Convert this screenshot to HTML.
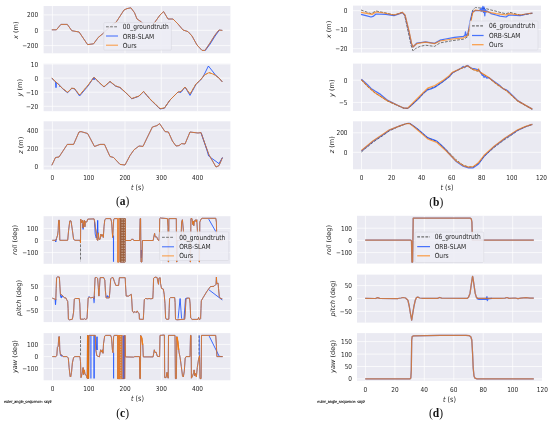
<!DOCTYPE html>
<html><head><meta charset="utf-8"><title>Figure</title>
<style>
html,body{margin:0;padding:0;background:#fff;overflow:hidden;}
svg{display:block;filter:blur(0.3px)}
svg text{font-family:"DejaVu Sans","Liberation Sans",sans-serif;fill:#262626;}
svg text.cap{font-family:"Liberation Serif",serif;font-weight:bold;fill:#111;}
</style></head><body>
<svg width="550" height="422" viewBox="0 0 550 422">
<rect width="550" height="422" fill="#fff"/>
<rect x="43.6" y="6" width="186.8" height="47.3" fill="#EAEAF2"/>
<line x1="52.4" y1="6" x2="52.4" y2="53.3" stroke="#fff" stroke-width="0.7"/>
<line x1="88.7" y1="6" x2="88.7" y2="53.3" stroke="#fff" stroke-width="0.7"/>
<line x1="125.0" y1="6" x2="125.0" y2="53.3" stroke="#fff" stroke-width="0.7"/>
<line x1="161.3" y1="6" x2="161.3" y2="53.3" stroke="#fff" stroke-width="0.7"/>
<line x1="197.6" y1="6" x2="197.6" y2="53.3" stroke="#fff" stroke-width="0.7"/>
<line x1="43.6" y1="14.9" x2="230.4" y2="14.9" stroke="#fff" stroke-width="0.7"/>
<line x1="43.6" y1="30.3" x2="230.4" y2="30.3" stroke="#fff" stroke-width="0.7"/>
<line x1="43.6" y1="45.6" x2="230.4" y2="45.6" stroke="#fff" stroke-width="0.7"/>
<polyline points="205.0,50.8 210.0,44.2 215.0,36.2 219.0,30.6" fill="none" stroke="#023EFF" stroke-width="0.95" stroke-linejoin="round" stroke-opacity="0.8"/>
<polyline points="51.8,29.8 56.4,29.8 60.9,24.4 67.3,24.4 71.8,30.7 79.1,32.0 87.6,44.6 93.6,43.8 98.2,37.5 102.7,33.8 105.5,31.0 112.7,24.6 116.4,21.8 124.0,10.0 127.0,8.6 130.9,7.8 134.5,12.7 137.0,19.0 141.5,22.0 145.0,26.0 148.0,27.5 151.0,26.0 155.0,22.0 160.0,15.0 163.6,11.6 168.0,19.0 173.0,19.0 178.0,24.0 183.0,30.0 188.0,31.6 192.0,36.0 197.0,45.0 202.0,50.4 205.0,50.4 210.0,43.0 215.0,35.0 219.0,30.0 222.4,30.4" fill="none" stroke="#023EFF" stroke-width="0.95" stroke-linejoin="round" stroke-opacity="0.8"/>
<polyline points="51.8,29.8 56.4,29.8 60.9,24.4 67.3,24.4 71.8,30.7 79.1,32.0 87.6,44.6 93.6,43.8 98.2,37.5 102.7,33.8 105.5,31.0 112.7,24.6 116.4,21.8 124.0,10.0 127.0,8.6 130.9,7.8 134.5,12.7 137.0,19.0 141.5,22.0 145.0,26.0 148.0,27.5 151.0,26.0 155.0,22.0 160.0,15.0 163.6,11.6 168.0,19.0 173.0,19.0 178.0,24.0 183.0,30.0 188.0,31.6 192.0,36.0 197.0,45.0 202.0,50.4 205.0,50.4 210.0,43.0 215.0,35.0 219.0,30.0 222.4,30.4" fill="none" stroke="#FF7C00" stroke-width="0.95" stroke-linejoin="round" stroke-opacity="0.8"/>
<rect x="103.8" y="22.6" width="67.6" height="27.5" rx="1" fill="#ededf5" fill-opacity="0.9" stroke="#d4d4dc" stroke-width="0.5"/>
<line x1="106" y1="26.8" x2="118" y2="26.8" stroke="#6e6e6e" stroke-width="0.95" stroke-dasharray="2.8,1.3"/>
<line x1="106" y1="36" x2="118" y2="36" stroke="#023EFF" stroke-opacity="0.8" stroke-width="0.95"/>
<line x1="106" y1="45.2" x2="118" y2="45.2" stroke="#FF7C00" stroke-opacity="0.8" stroke-width="0.95"/>
<text transform="translate(122.7,29.3) scale(0.85,1)" font-size="7.00" text-anchor="start" >00_groundtruth</text>
<text transform="translate(122.7,38.5) scale(0.85,1)" font-size="7.00" text-anchor="start" >ORB-SLAM</text>
<text transform="translate(122.7,47.7) scale(0.85,1)" font-size="7.00" text-anchor="start" >Ours</text>
<text transform="translate(38.1,17.4) scale(0.85,1)" font-size="6.82" text-anchor="end" >200</text>
<text transform="translate(38.1,32.8) scale(0.85,1)" font-size="6.82" text-anchor="end" >0</text>
<text transform="translate(38.1,48.1) scale(0.85,1)" font-size="6.82" text-anchor="end" >−200</text>
<text transform="translate(18.2,30.3) rotate(-90)" font-size="6.6000000000000005" text-anchor="middle"><tspan font-style="oblique">x</tspan> (m)</text>
<rect x="43.6" y="63.6" width="186.8" height="47.6" fill="#EAEAF2"/>
<line x1="52.4" y1="63.6" x2="52.4" y2="111.2" stroke="#fff" stroke-width="0.7"/>
<line x1="88.7" y1="63.6" x2="88.7" y2="111.2" stroke="#fff" stroke-width="0.7"/>
<line x1="125.0" y1="63.6" x2="125.0" y2="111.2" stroke="#fff" stroke-width="0.7"/>
<line x1="161.3" y1="63.6" x2="161.3" y2="111.2" stroke="#fff" stroke-width="0.7"/>
<line x1="197.6" y1="63.6" x2="197.6" y2="111.2" stroke="#fff" stroke-width="0.7"/>
<line x1="43.6" y1="64.0" x2="230.4" y2="64.0" stroke="#fff" stroke-width="0.7"/>
<line x1="43.6" y1="78.1" x2="230.4" y2="78.1" stroke="#fff" stroke-width="0.7"/>
<line x1="43.6" y1="92.2" x2="230.4" y2="92.2" stroke="#fff" stroke-width="0.7"/>
<line x1="43.6" y1="106.3" x2="230.4" y2="106.3" stroke="#fff" stroke-width="0.7"/>
<polyline points="51.8,78.1 58.2,84.1 62.7,88.6 67.6,92.3 71.8,88.1 74.5,88.6 79.6,95.0 88.2,85.0 94.0,77.2 99.1,82.3 104.0,86.8 110.0,81.4 115.5,85.9 120.0,87.4 125.5,92.3 131.8,98.6 139.0,96.0 143.6,91.4 150.0,99.0 160.0,108.6 164.4,108.0 170.0,100.0 178.0,92.0 181.0,91.4 185.0,87.0 190.0,94.0 196.0,84.0 200.4,80.0 204.4,75.0 209.0,72.6 214.0,74.4 219.0,78.0 222.4,82.0" fill="none" stroke="#6e6e6e" stroke-width="0.7" stroke-linejoin="round" stroke-dasharray="2.8,1.3"/>
<polyline points="51.8,78.1 55.6,82.0 56.0,87.7 56.3,82.5 59.6,85.0 60.0,87.0 60.5,86.3 62.7,88.8 67.6,92.8 71.8,88.3 74.5,88.8 79.6,96.0 88.2,85.8 93.6,77.6 94.0,80.0 94.4,77.6 99.1,82.5 104.0,87.0 110.0,81.6 115.5,86.1 120.0,87.6 125.5,92.5 131.8,98.8 139.0,96.2 143.6,91.6 150.0,99.2 160.0,109.0 164.4,108.2 170.0,100.0 178.0,92.0 181.0,92.4 185.0,87.0 190.0,95.4 196.0,84.4 200.4,80.0 203.0,77.0 208.4,66.0 216.0,75.6 219.0,78.0 222.4,82.0" fill="none" stroke="#023EFF" stroke-width="0.95" stroke-linejoin="round" stroke-opacity="0.8"/>
<polyline points="51.8,78.1 58.2,84.1 62.7,88.6 67.6,92.3 71.8,88.1 74.5,88.6 79.6,95.0 88.2,85.0 94.0,77.2 99.1,82.3 104.0,86.8 110.0,81.4 115.5,85.9 120.0,87.4 125.5,92.3 131.8,98.6 139.0,96.0 143.6,91.4 150.0,99.0 160.0,108.6 164.4,108.0 170.0,100.0 178.0,92.0 181.0,91.4 185.0,87.0 190.0,94.0 196.0,84.0 200.4,80.0 204.4,75.0 209.0,72.6 214.0,74.4 219.0,78.0 222.4,82.0" fill="none" stroke="#FF7C00" stroke-width="0.95" stroke-linejoin="round" stroke-opacity="0.8"/>
<text transform="translate(38.1,66.5) scale(0.85,1)" font-size="6.82" text-anchor="end" >10</text>
<text transform="translate(38.1,80.6) scale(0.85,1)" font-size="6.82" text-anchor="end" >0</text>
<text transform="translate(38.1,94.7) scale(0.85,1)" font-size="6.82" text-anchor="end" >−10</text>
<text transform="translate(38.1,108.8) scale(0.85,1)" font-size="6.82" text-anchor="end" >−20</text>
<text transform="translate(21.5,87.8) rotate(-90)" font-size="6.6000000000000005" text-anchor="middle"><tspan font-style="oblique">y</tspan> (m)</text>
<rect x="43.6" y="121.3" width="186.8" height="48.2" fill="#EAEAF2"/>
<line x1="52.4" y1="121.3" x2="52.4" y2="169.5" stroke="#fff" stroke-width="0.7"/>
<line x1="88.7" y1="121.3" x2="88.7" y2="169.5" stroke="#fff" stroke-width="0.7"/>
<line x1="125.0" y1="121.3" x2="125.0" y2="169.5" stroke="#fff" stroke-width="0.7"/>
<line x1="161.3" y1="121.3" x2="161.3" y2="169.5" stroke="#fff" stroke-width="0.7"/>
<line x1="197.6" y1="121.3" x2="197.6" y2="169.5" stroke="#fff" stroke-width="0.7"/>
<line x1="43.6" y1="130.0" x2="230.4" y2="130.0" stroke="#fff" stroke-width="0.7"/>
<line x1="43.6" y1="148.2" x2="230.4" y2="148.2" stroke="#fff" stroke-width="0.7"/>
<line x1="43.6" y1="166.2" x2="230.4" y2="166.2" stroke="#fff" stroke-width="0.7"/>
<polyline points="201.0,132.6 205.0,144.4 207.0,150.4 208.6,156.0 219.0,163.6 222.4,157.6" fill="none" stroke="#023EFF" stroke-width="0.95" stroke-linejoin="round" stroke-opacity="0.8"/>
<polyline points="51.8,165.3 55.5,157.5 59.0,157.0 67.3,144.4 73.6,144.4 79.0,132.0 81.0,131.6 87.6,133.5 94.5,146.5 100.0,144.4 104.5,144.4 110.0,156.5 113.6,157.5 120.0,164.4 125.0,165.0 130.0,155.5 134.0,149.8 139.0,146.0 143.0,146.4 147.0,138.0 152.4,127.0 157.0,125.6 159.6,123.6 165.0,131.6 168.4,132.0 172.4,141.0 176.0,146.0 179.0,145.6 181.6,143.6 185.0,144.0 190.0,132.0 193.0,132.4 198.0,133.0 201.0,132.6 205.0,144.0 209.0,155.0 212.0,160.0 216.0,167.0 219.0,165.6 222.4,157.6" fill="none" stroke="#023EFF" stroke-width="0.95" stroke-linejoin="round" stroke-opacity="0.8"/>
<polyline points="51.8,165.3 55.5,157.5 59.0,157.0 67.3,144.4 73.6,144.4 79.0,132.0 81.0,131.6 87.6,133.5 94.5,146.5 100.0,144.4 104.5,144.4 110.0,156.5 113.6,157.5 120.0,164.4 125.0,165.0 130.0,155.5 134.0,149.8 139.0,146.0 143.0,146.4 147.0,138.0 152.4,127.0 157.0,125.6 159.6,123.6 165.0,131.6 168.4,132.0 172.4,141.0 176.0,146.0 179.0,145.6 181.6,143.6 185.0,144.0 190.0,132.0 193.0,132.4 198.0,133.0 201.0,132.6 205.0,144.0 209.0,155.0 212.0,160.0 216.0,167.0 219.0,165.6 222.4,157.6" fill="none" stroke="#FF7C00" stroke-width="0.95" stroke-linejoin="round" stroke-opacity="0.8"/>
<text transform="translate(38.1,132.5) scale(0.85,1)" font-size="6.82" text-anchor="end" >400</text>
<text transform="translate(38.1,150.7) scale(0.85,1)" font-size="6.82" text-anchor="end" >200</text>
<text transform="translate(38.1,168.7) scale(0.85,1)" font-size="6.82" text-anchor="end" >0</text>
<text transform="translate(23.3,145.2) rotate(-90)" font-size="6.6000000000000005" text-anchor="middle"><tspan font-style="oblique">z</tspan> (m)</text>
<text transform="translate(52.4,180.1) scale(0.85,1)" font-size="6.82" text-anchor="middle" >0</text>
<text transform="translate(88.7,180.1) scale(0.85,1)" font-size="6.82" text-anchor="middle" >100</text>
<text transform="translate(125.0,180.1) scale(0.85,1)" font-size="6.82" text-anchor="middle" >200</text>
<text transform="translate(161.3,180.1) scale(0.85,1)" font-size="6.82" text-anchor="middle" >300</text>
<text transform="translate(197.6,180.1) scale(0.85,1)" font-size="6.82" text-anchor="middle" >400</text>
<text transform="translate(137.5,189.5) scale(0.85,1)" font-size="7.53" text-anchor="middle"><tspan font-style="oblique">t</tspan> (s)</text>
<text class="cap" x="122.6" y="205.3" font-size="11.5" text-anchor="middle"><tspan font-weight="normal">(</tspan>a<tspan font-weight="normal">)</tspan></text>
<rect x="353" y="5.6" width="188.0" height="47.0" fill="#EAEAF2"/>
<line x1="361.5" y1="5.6" x2="361.5" y2="52.6" stroke="#fff" stroke-width="0.7"/>
<line x1="391.6" y1="5.6" x2="391.6" y2="52.6" stroke="#fff" stroke-width="0.7"/>
<line x1="421.6" y1="5.6" x2="421.6" y2="52.6" stroke="#fff" stroke-width="0.7"/>
<line x1="451.7" y1="5.6" x2="451.7" y2="52.6" stroke="#fff" stroke-width="0.7"/>
<line x1="481.7" y1="5.6" x2="481.7" y2="52.6" stroke="#fff" stroke-width="0.7"/>
<line x1="511.8" y1="5.6" x2="511.8" y2="52.6" stroke="#fff" stroke-width="0.7"/>
<line x1="353" y1="10.7" x2="541" y2="10.7" stroke="#fff" stroke-width="0.7"/>
<line x1="353" y1="29.6" x2="541" y2="29.6" stroke="#fff" stroke-width="0.7"/>
<line x1="353" y1="48.7" x2="541" y2="48.7" stroke="#fff" stroke-width="0.7"/>
<polyline points="361.0,10.0 366.0,11.8 371.0,13.6 376.0,11.0 386.0,13.0 394.0,15.0 399.0,13.6 402.4,12.2 404.6,15.0 408.0,31.0 411.0,45.0 413.0,51.0 415.5,48.6 420.0,46.4 425.5,45.2 434.5,46.4 440.0,42.9 452.7,40.6 463.6,39.2 468.0,36.6 470.0,25.5 472.7,10.0 475.5,7.5 481.8,8.2 486.0,8.6 491.0,10.0 496.0,11.2 500.0,12.4 506.0,13.8 510.0,12.4 520.0,15.0 526.0,14.4 532.4,13.4" fill="none" stroke="#6e6e6e" stroke-width="0.95" stroke-linejoin="round" stroke-dasharray="2.8,1.3"/>
<polyline points="361.0,14.4 366.0,15.6 371.0,17.0 373.0,16.4 376.0,14.0 386.0,14.4 394.0,15.6 399.0,13.8 402.4,12.6 405.0,15.5 409.0,32.0 411.5,44.0 413.0,47.0 417.0,43.0 425.5,41.8 434.5,43.4 440.0,40.2 445.5,39.0 454.5,37.3 463.6,36.4 465.0,35.0 465.5,31.8 466.2,36.0 468.0,33.0 470.0,21.8 472.4,11.8 475.5,10.5 479.5,10.5 480.6,9.0 481.2,11.5 481.8,7.8 482.4,11.0 482.9,6.4 483.5,12.5 484.1,7.2 484.8,15.8 485.4,9.5 486.2,12.0 487.0,11.0 491.0,13.6 496.0,15.0 500.0,16.2 506.0,17.0 509.0,15.0 520.0,15.6 526.0,14.2 532.4,13.0" fill="none" stroke="#023EFF" stroke-width="1.25" stroke-linejoin="round" stroke-opacity="0.7"/>
<polyline points="361.0,12.4 368.0,13.6 372.0,14.4 376.0,12.0 384.0,13.0 394.0,15.0 399.0,13.6 402.4,12.4 405.0,15.0 409.0,31.0 411.5,43.0 413.0,47.0 415.0,45.0 417.0,43.6 425.5,42.2 434.5,43.6 440.0,41.0 452.7,39.0 463.6,37.8 467.6,35.5 470.0,25.5 472.7,12.7 475.5,10.0 481.8,11.0 486.0,11.6 491.0,12.7 496.0,13.6 500.0,14.2 506.0,15.0 509.0,13.6 520.0,15.0 526.0,14.0 532.4,13.0" fill="none" stroke="#FF7C00" stroke-width="1.25" stroke-linejoin="round" stroke-opacity="0.7"/>
<rect x="469.8" y="21" width="68.2" height="29.0" rx="1" fill="#ededf5" fill-opacity="0.9" stroke="#d4d4dc" stroke-width="0.5"/>
<line x1="472" y1="25.9" x2="483.6" y2="25.9" stroke="#6e6e6e" stroke-width="1.25" stroke-dasharray="2.8,1.3"/>
<line x1="472" y1="35.5" x2="483.6" y2="35.5" stroke="#023EFF" stroke-opacity="0.7" stroke-width="1.25"/>
<line x1="472" y1="44.7" x2="483.6" y2="44.7" stroke="#FF7C00" stroke-opacity="0.7" stroke-width="1.25"/>
<text transform="translate(489,28.4) scale(0.85,1)" font-size="7.00" text-anchor="start" >06_groundtruth</text>
<text transform="translate(489,38.0) scale(0.85,1)" font-size="7.00" text-anchor="start" >ORB-SLAM</text>
<text transform="translate(489,47.2) scale(0.85,1)" font-size="7.00" text-anchor="start" >Ours</text>
<text transform="translate(347.5,13.2) scale(0.85,1)" font-size="6.82" text-anchor="end" >0</text>
<text transform="translate(347.5,32.1) scale(0.85,1)" font-size="6.82" text-anchor="end" >−10</text>
<text transform="translate(347.5,51.2) scale(0.85,1)" font-size="6.82" text-anchor="end" >−20</text>
<text transform="translate(330.7,29.5) rotate(-90)" font-size="6.6000000000000005" text-anchor="middle"><tspan font-style="oblique">x</tspan> (m)</text>
<rect x="353" y="63.6" width="188.0" height="47.4" fill="#EAEAF2"/>
<line x1="361.5" y1="63.6" x2="361.5" y2="111.0" stroke="#fff" stroke-width="0.7"/>
<line x1="391.6" y1="63.6" x2="391.6" y2="111.0" stroke="#fff" stroke-width="0.7"/>
<line x1="421.6" y1="63.6" x2="421.6" y2="111.0" stroke="#fff" stroke-width="0.7"/>
<line x1="451.7" y1="63.6" x2="451.7" y2="111.0" stroke="#fff" stroke-width="0.7"/>
<line x1="481.7" y1="63.6" x2="481.7" y2="111.0" stroke="#fff" stroke-width="0.7"/>
<line x1="511.8" y1="63.6" x2="511.8" y2="111.0" stroke="#fff" stroke-width="0.7"/>
<line x1="353" y1="80.2" x2="541" y2="80.2" stroke="#fff" stroke-width="0.7"/>
<line x1="353" y1="102.4" x2="541" y2="102.4" stroke="#fff" stroke-width="0.7"/>
<polyline points="361.4,79.9 364.5,83.3 367.7,86.7 371.4,89.8 375.0,93.0 378.2,95.0 381.4,97.1 384.5,99.1 387.7,101.1 391.3,102.8 395.0,104.4 398.6,106.0 404.1,108.4 407.7,108.4 411.4,105.4 415.0,102.1 418.6,98.5 421.6,95.5 424.7,92.5 427.7,89.4 431.4,88.1 435.0,86.8 438.6,84.5 442.3,82.2 445.9,79.4 449.5,76.3 452.3,73.0 455.3,71.3 458.4,69.9 461.4,68.5 466.8,66.1 468.6,66.7 472.3,69.4 477.7,71.2 478.6,69.2 479.3,71.9 480.5,72.7 484.6,75.1 488.6,77.6 492.2,80.7 495.9,83.8 499.5,86.3 503.2,88.7 506.8,91.1 510.4,94.5 514.1,97.8 517.7,101.1 521.4,103.2 525.0,105.2 528.6,107.3 532.3,109.3" fill="none" stroke="#6e6e6e" stroke-width="0.95" stroke-linejoin="round" stroke-dasharray="2.8,1.3"/>
<polyline points="361.4,79.2 367.7,85.0 371.0,88.4 375.0,91.0 380.5,94.4 387.7,100.4 398.6,105.8 404.1,108.2 407.7,108.4 411.4,105.2 418.6,98.6 423.0,93.6 427.7,89.8 431.0,88.8 435.0,87.2 442.3,82.0 449.5,76.5 452.3,73.0 461.4,68.0 463.2,66.4 464.6,67.6 466.2,66.0 467.7,65.5 469.0,66.8 472.3,68.6 474.0,68.7 477.7,69.6 480.0,71.5 481.5,74.0 482.3,75.5 483.2,74.6 484.0,77.3 485.5,76.4 486.8,78.2 488.6,77.6 495.9,82.8 499.5,85.3 503.0,88.6 506.8,90.2 508.6,91.6 514.0,97.0 517.7,100.6 525.0,105.0 532.3,109.1" fill="none" stroke="#023EFF" stroke-width="1.25" stroke-linejoin="round" stroke-opacity="0.7"/>
<polyline points="361.4,79.6 367.7,86.4 375.0,92.7 387.7,100.9 398.6,105.8 404.1,108.2 407.7,108.2 411.4,104.5 418.6,97.3 427.7,88.2 435.0,85.5 442.3,80.9 449.5,75.5 452.3,72.4 461.4,68.2 466.8,65.8 468.6,66.4 472.3,69.1 477.7,70.9 478.6,68.9 479.3,71.6 480.5,72.4 488.6,77.3 495.9,83.6 506.8,90.9 517.7,100.9 532.3,109.1" fill="none" stroke="#FF7C00" stroke-width="1.25" stroke-linejoin="round" stroke-opacity="0.7"/>
<text transform="translate(347.5,82.7) scale(0.85,1)" font-size="6.82" text-anchor="end" >0</text>
<text transform="translate(347.5,104.9) scale(0.85,1)" font-size="6.82" text-anchor="end" >−5</text>
<text transform="translate(334.1,88.2) rotate(-90)" font-size="6.6000000000000005" text-anchor="middle"><tspan font-style="oblique">y</tspan> (m)</text>
<rect x="353" y="121.3" width="188.0" height="48.0" fill="#EAEAF2"/>
<line x1="361.5" y1="121.3" x2="361.5" y2="169.3" stroke="#fff" stroke-width="0.7"/>
<line x1="391.6" y1="121.3" x2="391.6" y2="169.3" stroke="#fff" stroke-width="0.7"/>
<line x1="421.6" y1="121.3" x2="421.6" y2="169.3" stroke="#fff" stroke-width="0.7"/>
<line x1="451.7" y1="121.3" x2="451.7" y2="169.3" stroke="#fff" stroke-width="0.7"/>
<line x1="481.7" y1="121.3" x2="481.7" y2="169.3" stroke="#fff" stroke-width="0.7"/>
<line x1="511.8" y1="121.3" x2="511.8" y2="169.3" stroke="#fff" stroke-width="0.7"/>
<line x1="353" y1="132.8" x2="541" y2="132.8" stroke="#fff" stroke-width="0.7"/>
<line x1="353" y1="152.3" x2="541" y2="152.3" stroke="#fff" stroke-width="0.7"/>
<polyline points="361.4,152.0 365.3,148.7 369.3,145.4 373.2,142.1 376.5,139.9 379.7,137.7 383.0,135.5 386.2,133.2 389.5,130.8 393.2,129.1 396.8,127.4 400.5,125.8 403.6,124.7 406.8,123.5 409.5,123.3 413.2,125.7 416.9,128.5 420.5,131.5 424.1,134.7 427.7,137.8 430.7,139.0 433.8,140.2 436.8,141.4 441.1,145.2 445.5,149.1 449.0,152.5 452.4,156.0 455.9,159.6 459.5,162.4 463.2,165.1 468.6,167.0 473.2,166.8 478.6,163.3 484.1,156.4 487.4,153.4 490.8,150.4 494.1,147.4 497.7,144.7 501.4,142.0 505.0,139.3 508.2,137.3 511.4,135.2 514.5,132.8 517.7,130.5 521.4,128.6 525.0,126.9 528.6,125.7 532.3,124.4" fill="none" stroke="#6e6e6e" stroke-width="0.95" stroke-linejoin="round" stroke-dasharray="2.8,1.3"/>
<polyline points="361.4,151.1 365.3,147.8 369.3,144.6 373.2,141.3 376.5,139.1 379.7,136.9 383.0,134.7 386.2,132.4 389.5,130.1 393.2,128.6 396.8,127.0 400.5,125.6 403.6,124.5 406.8,123.5 409.5,123.3 413.2,125.7 416.9,128.5 420.5,131.4 424.1,134.6 427.7,137.7 430.7,138.8 433.8,139.9 436.8,141.1 441.1,145.0 445.5,149.5 449.0,153.5 452.4,157.4 455.9,161.2 459.5,163.7 463.2,166.2 468.6,167.8 473.2,167.8 478.6,164.0 484.1,156.3 487.4,153.1 490.8,149.9 494.1,146.7 497.7,144.0 501.4,141.2 505.0,138.5 508.2,136.4 511.4,134.4 514.5,132.4 517.7,130.3 521.4,128.6 525.0,127.0 528.6,125.7 532.3,124.4" fill="none" stroke="#023EFF" stroke-width="1.25" stroke-linejoin="round" stroke-opacity="0.7"/>
<polyline points="361.4,150.4 373.2,140.7 389.5,129.8 400.5,125.6 406.8,123.5 409.5,123.5 413.2,126.2 420.5,132.5 427.7,138.9 436.8,142.5 445.5,150.2 455.9,160.7 463.2,165.6 468.6,167.1 473.2,166.7 478.6,162.5 484.1,155.3 494.1,146.2 505.0,138.0 517.7,129.8 525.0,126.7 532.3,124.4" fill="none" stroke="#FF7C00" stroke-width="1.25" stroke-linejoin="round" stroke-opacity="0.7"/>
<text transform="translate(347.5,135.3) scale(0.85,1)" font-size="6.82" text-anchor="end" >200</text>
<text transform="translate(347.5,154.8) scale(0.85,1)" font-size="6.82" text-anchor="end" >0</text>
<text transform="translate(334.1,144.8) rotate(-90)" font-size="6.6000000000000005" text-anchor="middle"><tspan font-style="oblique">z</tspan> (m)</text>
<text transform="translate(361.5,180.1) scale(0.85,1)" font-size="6.82" text-anchor="middle" >0</text>
<text transform="translate(391.6,180.1) scale(0.85,1)" font-size="6.82" text-anchor="middle" >20</text>
<text transform="translate(421.6,180.1) scale(0.85,1)" font-size="6.82" text-anchor="middle" >40</text>
<text transform="translate(451.7,180.1) scale(0.85,1)" font-size="6.82" text-anchor="middle" >60</text>
<text transform="translate(481.7,180.1) scale(0.85,1)" font-size="6.82" text-anchor="middle" >80</text>
<text transform="translate(511.8,180.1) scale(0.85,1)" font-size="6.82" text-anchor="middle" >100</text>
<text transform="translate(541.5,180.1) scale(0.85,1)" font-size="6.82" text-anchor="middle" >120</text>
<text transform="translate(447,189.5) scale(0.85,1)" font-size="7.53" text-anchor="middle"><tspan font-style="oblique">t</tspan> (s)</text>
<text class="cap" x="436.3" y="205.6" font-size="11.5" text-anchor="middle"><tspan font-weight="normal">(</tspan>b<tspan font-weight="normal">)</tspan></text>
<rect x="43.6" y="216.2" width="186.8" height="47.6" fill="#EAEAF2"/>
<line x1="52.5" y1="216.2" x2="52.5" y2="263.8" stroke="#fff" stroke-width="0.7"/>
<line x1="88.8" y1="216.2" x2="88.8" y2="263.8" stroke="#fff" stroke-width="0.7"/>
<line x1="125.1" y1="216.2" x2="125.1" y2="263.8" stroke="#fff" stroke-width="0.7"/>
<line x1="161.3" y1="216.2" x2="161.3" y2="263.8" stroke="#fff" stroke-width="0.7"/>
<line x1="197.5" y1="216.2" x2="197.5" y2="263.8" stroke="#fff" stroke-width="0.7"/>
<line x1="43.6" y1="228.4" x2="230.4" y2="228.4" stroke="#fff" stroke-width="0.7"/>
<line x1="43.6" y1="240.4" x2="230.4" y2="240.4" stroke="#fff" stroke-width="0.7"/>
<line x1="43.6" y1="252.6" x2="230.4" y2="252.6" stroke="#fff" stroke-width="0.7"/>
<polyline points="80.5,240.3 80.5,261.2" fill="none" stroke="#6e6e6e" stroke-width="0.95" stroke-linejoin="round" stroke-dasharray="2.8,1.3"/>
<polyline points="55.2,240.3 55.8,242.0 56.4,239.0" fill="none" stroke="#023EFF" stroke-width="0.95" stroke-linejoin="round" stroke-opacity="0.8"/>
<polyline points="82.9,224.0 83.1,229.4 83.3,224.0" fill="none" stroke="#023EFF" stroke-width="0.95" stroke-linejoin="round" stroke-opacity="0.8"/>
<polyline points="94.5,221.0 95.2,234.0 96.2,238.0 97.3,234.0 97.7,220.3 98.0,233.0" fill="none" stroke="#023EFF" stroke-width="0.95" stroke-linejoin="round" stroke-opacity="0.8"/>
<polyline points="113.5,235.5 113.5,261.8" fill="none" stroke="#023EFF" stroke-width="1.1" stroke-linejoin="round" stroke-opacity="0.8"/>
<polyline points="141.3,250.0 141.3,258.0" fill="none" stroke="#023EFF" stroke-width="1.1" stroke-linejoin="round" stroke-opacity="0.8"/>
<polyline points="208.7,219.1 215.8,231.6 217.0,240.5" fill="none" stroke="#023EFF" stroke-width="0.95" stroke-linejoin="round" stroke-opacity="0.8"/>
<polyline points="52.3,240.3 55.8,240.3 56.4,238.7 57.6,235.1 58.2,230.4 58.6,220.3 59.4,220.3 59.8,240.3 67.7,240.3 68.6,230.4 69.8,220.9 71.0,220.9 72.4,230.4 73.6,239.3 75.0,240.3 80.1,240.3 80.5,242.8 80.7,219.1 81.7,222.7 82.5,220.3 83.1,228.0 83.7,222.1 84.3,220.3 84.9,226.8 85.5,221.5 86.7,222.1 87.8,219.1 94.1,218.9 94.7,222.1 95.3,226.8 96.5,234.0 97.1,239.9 97.7,240.5 98.3,232.8 98.9,239.3 100.1,239.3 100.9,234.0 101.8,236.3 102.8,234.5 103.3,237.5 104.0,226.8 104.8,219.7 106.0,218.6 110.7,218.6 111.6,222.1 112.3,232.8 112.7,237.5 113.7,219.7 114.3,218.6 117.3,218.6 117.6,218.6 117.6,262.0 118.9,262.0 118.9,218.6 120.3,218.6 120.3,262.0 125.0,262.0 125.1,218.6 125.3,240.5 130.9,240.5 131.5,239.3 133.2,239.3 133.8,240.5 139.6,240.5 140.1,218.6 140.6,218.6 141.0,262.0 141.9,262.0 142.5,240.5 153.2,240.5 153.8,236.9 154.6,233.4 155.2,236.9 156.7,236.9 157.9,239.9 159.1,240.5 159.5,232.8 159.7,218.6 160.3,218.0 167.4,218.6 168.0,226.8 168.3,262.0 168.6,262.0 168.9,218.6 176.3,218.6 176.6,262.0 176.9,262.0 177.2,240.5 181.0,240.5 181.6,222.0 182.4,219.7 183.4,230.4 184.2,240.5 189.8,240.5 190.2,262.0 190.5,262.0 190.9,218.6 192.0,218.6 192.7,224.5 193.3,221.0 193.8,225.7 194.4,221.0 195.6,219.7 196.2,222.0 196.8,219.7 197.4,230.4 198.0,240.5 199.0,240.5 199.2,262.0 199.5,262.0 199.8,222.1 201.0,219.1 202.1,218.3 215.8,218.3 216.4,222.1 216.8,240.5 222.6,240.5" fill="none" stroke="#023EFF" stroke-width="0.95" stroke-linejoin="round" stroke-opacity="0.8"/>
<polyline points="52.3,240.3 55.8,240.3 56.4,238.7 57.6,235.1 58.2,230.4 58.6,220.3 59.4,220.3 59.8,240.3 67.7,240.3 68.6,230.4 69.8,220.9 71.0,220.9 72.4,230.4 73.6,239.3 75.0,240.3 80.1,240.3 80.5,242.8 80.7,219.1 81.7,222.7 82.5,220.3 83.1,228.0 83.7,222.1 84.3,220.3 84.9,226.8 85.5,221.5 86.7,222.1 87.8,219.1 94.1,218.9 94.7,222.1 95.3,226.8 96.5,234.0 97.1,239.9 97.7,240.5 98.3,232.8 98.9,239.3 100.1,239.3 100.9,234.0 101.8,236.3 102.8,234.5 103.3,237.5 104.0,226.8 104.8,219.7 106.0,218.6 110.7,218.6 111.6,222.1 112.3,232.8 112.7,237.5 113.7,219.7 114.3,218.6 117.3,218.6 117.6,218.6 117.6,262.0 118.9,262.0 118.9,218.6 120.3,218.6 120.3,262.0 125.0,262.0 125.1,218.6 125.3,240.5 130.9,240.5 131.5,239.3 133.2,239.3 133.8,240.5 139.6,240.5 140.1,218.6 140.6,218.6 141.0,262.0 141.9,262.0 142.5,240.5 153.2,240.5 153.8,236.9 154.6,233.4 155.2,236.9 156.7,236.9 157.9,239.9 159.1,240.5 159.5,232.8 159.7,218.6 160.3,218.0 167.4,218.6 168.0,226.8 168.3,262.0 168.6,262.0 168.9,218.6 176.3,218.6 176.6,262.0 176.9,262.0 177.2,240.5 181.0,240.5 181.6,222.0 182.4,219.7 183.4,230.4 184.2,240.5 189.8,240.5 190.2,262.0 190.5,262.0 190.9,218.6 192.0,218.6 192.7,224.5 193.3,221.0 193.8,225.7 194.4,221.0 195.6,219.7 196.2,222.0 196.8,219.7 197.4,230.4 198.0,240.5 199.0,240.5 199.2,262.0 199.5,262.0 199.8,222.1 201.0,219.1 202.1,218.3 215.8,218.3 216.4,222.1 216.8,240.5 222.6,240.5" fill="none" stroke="#FF7C00" stroke-width="0.95" stroke-linejoin="round" stroke-opacity="0.8"/>
<rect x="117.2" y="218.2" width="2.1" height="44.2" fill="#ea8a42"/>
<rect x="119.9" y="218.2" width="5.5" height="44.2" fill="#9a5e3c"/>
<polyline points="122.1,219.1 122.1,262.0" fill="none" stroke="#efe6e2" stroke-width="0.7" stroke-linejoin="round" stroke-dasharray="1.3,1.3"/>
<polyline points="124.3,219.1 124.3,262.0" fill="none" stroke="#efe6e2" stroke-width="0.6" stroke-linejoin="round" stroke-dasharray="1.3,1.3"/>
<rect x="159.7" y="231.8" width="69.1" height="28.7" rx="1" fill="#ededf5" fill-opacity="0.9" stroke="#d4d4dc" stroke-width="0.5"/>
<line x1="162" y1="237.3" x2="174" y2="237.3" stroke="#6e6e6e" stroke-width="0.95" stroke-dasharray="2.8,1.3"/>
<line x1="162" y1="246.8" x2="174" y2="246.8" stroke="#023EFF" stroke-opacity="0.8" stroke-width="0.95"/>
<line x1="162" y1="255.9" x2="174" y2="255.9" stroke="#FF7C00" stroke-opacity="0.8" stroke-width="0.95"/>
<text transform="translate(179.2,239.8) scale(0.85,1)" font-size="7.00" text-anchor="start" >00_groundtruth</text>
<text transform="translate(179.2,249.3) scale(0.85,1)" font-size="7.00" text-anchor="start" >ORB-SLAM</text>
<text transform="translate(179.2,258.4) scale(0.85,1)" font-size="7.00" text-anchor="start" >Ours</text>
<text transform="translate(38.1,230.9) scale(0.85,1)" font-size="6.82" text-anchor="end" >100</text>
<text transform="translate(38.1,242.9) scale(0.85,1)" font-size="6.82" text-anchor="end" >0</text>
<text transform="translate(38.1,255.1) scale(0.85,1)" font-size="6.82" text-anchor="end" >−100</text>
<text transform="translate(17.1,240) rotate(-90)" font-size="6.6000000000000005" text-anchor="middle"><tspan font-style="oblique">roll</tspan> (deg)</text>
<rect x="43.6" y="274.7" width="186.8" height="47.4" fill="#EAEAF2"/>
<line x1="52.5" y1="274.7" x2="52.5" y2="322.1" stroke="#fff" stroke-width="0.7"/>
<line x1="88.8" y1="274.7" x2="88.8" y2="322.1" stroke="#fff" stroke-width="0.7"/>
<line x1="125.1" y1="274.7" x2="125.1" y2="322.1" stroke="#fff" stroke-width="0.7"/>
<line x1="161.3" y1="274.7" x2="161.3" y2="322.1" stroke="#fff" stroke-width="0.7"/>
<line x1="197.5" y1="274.7" x2="197.5" y2="322.1" stroke="#fff" stroke-width="0.7"/>
<line x1="43.6" y1="286.3" x2="230.4" y2="286.3" stroke="#fff" stroke-width="0.7"/>
<line x1="43.6" y1="298.2" x2="230.4" y2="298.2" stroke="#fff" stroke-width="0.7"/>
<line x1="43.6" y1="310.6" x2="230.4" y2="310.6" stroke="#fff" stroke-width="0.7"/>
<polyline points="55.2,299.4 55.5,304.4 55.9,299.0" fill="none" stroke="#023EFF" stroke-width="1.1" stroke-linejoin="round" stroke-opacity="0.8"/>
<polyline points="60.4,294.5 61.2,297.5 62.6,296.0" fill="none" stroke="#023EFF" stroke-width="1.3" stroke-linejoin="round" stroke-opacity="0.8"/>
<polyline points="88.6,296.5 89.4,297.0" fill="none" stroke="#023EFF" stroke-width="1.2" stroke-linejoin="round" stroke-opacity="0.8"/>
<polyline points="93.7,298.0 94.1,302.6 94.4,296.0" fill="none" stroke="#023EFF" stroke-width="1.1" stroke-linejoin="round" stroke-opacity="0.8"/>
<polyline points="106.6,297.0 107.5,296.0 108.5,297.0" fill="none" stroke="#023EFF" stroke-width="1.3" stroke-linejoin="round" stroke-opacity="0.8"/>
<polyline points="178.1,318.6 180.1,298.5 181.6,318.6" fill="none" stroke="#023EFF" stroke-width="0.95" stroke-linejoin="round" stroke-opacity="0.8"/>
<polyline points="184.0,318.6 185.5,298.5 187.0,298.0" fill="none" stroke="#023EFF" stroke-width="0.95" stroke-linejoin="round" stroke-opacity="0.8"/>
<polyline points="208.7,289.6 222.3,300.0" fill="none" stroke="#023EFF" stroke-width="0.95" stroke-linejoin="round" stroke-opacity="0.8"/>
<polyline points="52.3,298.1 54.7,299.1 55.8,299.7 56.2,288.4 56.6,277.7 57.6,276.9 59.4,277.1 59.8,284.8 60.4,294.3 61.8,294.9 63.6,296.7 64.4,297.9 65.9,297.9 66.7,299.7 67.7,301.4 68.1,308.5 68.4,319.2 69.5,319.8 72.4,319.2 73.6,312.1 74.3,299.1 75.4,298.5 79.2,298.5 79.8,303.8 80.4,319.2 83.7,319.2 84.3,318.6 85.5,319.4 87.0,318.6 87.6,308.5 88.2,297.9 89.6,297.3 90.8,297.9 93.0,297.3 94.1,298.5 94.5,290.8 95.1,277.7 96.5,277.5 97.6,278.3 98.3,287.2 98.9,296.1 99.5,287.2 100.1,277.7 103.6,277.5 104.8,280.1 105.4,290.8 106.1,297.9 109.3,297.9 109.9,290.8 110.7,278.9 111.9,277.5 113.1,277.7 114.3,281.3 115.8,285.4 118.6,285.4 119.0,281.3 119.4,277.7 125.2,277.7 125.5,284.8 126.2,296.1 128.5,296.1 130.3,294.9 131.3,294.3 131.7,299.1 132.4,310.9 133.6,312.7 135.0,311.5 136.2,312.7 137.2,310.9 138.3,312.7 139.2,313.9 139.4,319.2 143.3,319.4 143.7,312.1 144.3,299.7 145.5,298.5 147.8,298.8 149.0,298.5 150.8,298.8 152.8,298.5 153.2,290.8 153.6,278.3 155.0,277.1 157.1,277.5 157.9,281.9 158.5,284.3 158.9,278.3 160.2,277.7 160.6,283.7 161.5,288.4 163.3,289.0 164.2,294.3 165.0,303.8 165.6,318.0 166.6,319.4 168.8,319.2 169.2,308.5 169.6,298.5 170.6,297.6 174.7,297.6 175.1,302.6 175.5,319.2 176.9,319.8 184.7,319.2 185.3,312.1 185.9,299.7 187.0,298.1 189.5,298.1 190.1,303.8 190.7,318.0 192.1,319.4 198.0,319.4 198.6,317.4 199.5,319.8 200.6,318.6 201.0,308.5 201.3,300.8 203.3,297.3 206.9,291.4 210.4,286.6 214.0,286.3 216.0,284.3 216.4,277.1 216.8,283.7 218.1,283.1 218.5,288.4 219.3,296.7 220.5,298.5 222.3,298.8" fill="none" stroke="#023EFF" stroke-width="0.95" stroke-linejoin="round" stroke-opacity="0.8"/>
<polyline points="52.3,298.1 54.7,299.1 55.8,299.7 56.2,288.4 56.6,277.7 57.6,276.9 59.4,277.1 59.8,284.8 60.4,294.3 61.8,294.9 63.6,296.7 64.4,297.9 65.9,297.9 66.7,299.7 67.7,301.4 68.1,308.5 68.4,319.2 69.5,319.8 72.4,319.2 73.6,312.1 74.3,299.1 75.4,298.5 79.2,298.5 79.8,303.8 80.4,319.2 83.7,319.2 84.3,318.6 85.5,319.4 87.0,318.6 87.6,308.5 88.2,297.9 89.6,297.3 90.8,297.9 93.0,297.3 94.1,298.5 94.5,290.8 95.1,277.7 96.5,277.5 97.6,278.3 98.3,287.2 98.9,296.1 99.5,287.2 100.1,277.7 103.6,277.5 104.8,280.1 105.4,290.8 106.1,297.9 109.3,297.9 109.9,290.8 110.7,278.9 111.9,277.5 113.1,277.7 114.3,281.3 115.8,285.4 118.6,285.4 119.0,281.3 119.4,277.7 125.2,277.7 125.5,284.8 126.2,296.1 128.5,296.1 130.3,294.9 131.3,294.3 131.7,299.1 132.4,310.9 133.6,312.7 135.0,311.5 136.2,312.7 137.2,310.9 138.3,312.7 139.2,313.9 139.4,319.2 143.3,319.4 143.7,312.1 144.3,299.7 145.5,298.5 147.8,298.8 149.0,298.5 150.8,298.8 152.8,298.5 153.2,290.8 153.6,278.3 155.0,277.1 157.1,277.5 157.9,281.9 158.5,284.3 158.9,278.3 160.2,277.7 160.6,283.7 161.5,288.4 163.3,289.0 164.2,294.3 165.0,303.8 165.6,318.0 166.6,319.4 168.8,319.2 169.2,308.5 169.6,298.5 170.6,297.6 174.7,297.6 175.1,302.6 175.5,319.2 176.9,319.8 184.7,319.2 185.3,312.1 185.9,299.7 187.0,298.1 189.5,298.1 190.1,303.8 190.7,318.0 192.1,319.4 198.0,319.4 198.6,317.4 199.5,319.8 200.6,318.6 201.0,308.5 201.3,300.8 203.3,297.3 206.9,291.4 210.4,286.6 214.0,286.3 216.0,284.3 216.4,277.1 216.8,283.7 218.1,283.1 218.5,288.4 219.3,296.7 220.5,298.5 222.3,298.8" fill="none" stroke="#FF7C00" stroke-width="0.95" stroke-linejoin="round" stroke-opacity="0.8"/>
<text transform="translate(38.1,288.8) scale(0.85,1)" font-size="6.82" text-anchor="end" >50</text>
<text transform="translate(38.1,300.7) scale(0.85,1)" font-size="6.82" text-anchor="end" >0</text>
<text transform="translate(38.1,313.1) scale(0.85,1)" font-size="6.82" text-anchor="end" >−50</text>
<text transform="translate(21.3,298) rotate(-90)" font-size="6.6000000000000005" text-anchor="middle"><tspan font-style="oblique">pitch</tspan> (deg)</text>
<rect x="43.6" y="333.1" width="186.8" height="47.2" fill="#EAEAF2"/>
<line x1="52.5" y1="333.1" x2="52.5" y2="380.3" stroke="#fff" stroke-width="0.7"/>
<line x1="88.8" y1="333.1" x2="88.8" y2="380.3" stroke="#fff" stroke-width="0.7"/>
<line x1="125.1" y1="333.1" x2="125.1" y2="380.3" stroke="#fff" stroke-width="0.7"/>
<line x1="161.3" y1="333.1" x2="161.3" y2="380.3" stroke="#fff" stroke-width="0.7"/>
<line x1="197.5" y1="333.1" x2="197.5" y2="380.3" stroke="#fff" stroke-width="0.7"/>
<line x1="43.6" y1="344.4" x2="230.4" y2="344.4" stroke="#fff" stroke-width="0.7"/>
<line x1="43.6" y1="356.6" x2="230.4" y2="356.6" stroke="#fff" stroke-width="0.7"/>
<line x1="43.6" y1="368.4" x2="230.4" y2="368.4" stroke="#fff" stroke-width="0.7"/>
<polyline points="80.5,336.1 80.5,356.6" fill="none" stroke="#6e6e6e" stroke-width="0.95" stroke-linejoin="round" stroke-dasharray="2.8,1.3"/>
<polyline points="60.6,354.6 61.2,355.7 62.4,356.2" fill="none" stroke="#023EFF" stroke-width="1.3" stroke-linejoin="round" stroke-opacity="0.8"/>
<polyline points="90.9,335.4 90.9,378.6" fill="none" stroke="#023EFF" stroke-width="1.1" stroke-linejoin="round" stroke-opacity="0.8"/>
<polyline points="94.1,335.4 94.1,378.6" fill="none" stroke="#023EFF" stroke-width="1.5" stroke-linejoin="round" stroke-opacity="0.8"/>
<polyline points="96.4,350.0 97.0,336.7 97.4,350.0" fill="none" stroke="#023EFF" stroke-width="1.0" stroke-linejoin="round" stroke-opacity="0.8"/>
<polyline points="113.6,352.7 113.6,378.6" fill="none" stroke="#023EFF" stroke-width="1.1" stroke-linejoin="round" stroke-opacity="0.8"/>
<polyline points="199.0,335.4 199.0,356.0" fill="none" stroke="#6e6e6e" stroke-width="0.9" stroke-linejoin="round" stroke-dasharray="2.8,1.3"/>
<polyline points="199.4,335.4 199.4,356.0" fill="none" stroke="#023EFF" stroke-width="0.7" stroke-linejoin="round" stroke-opacity="0.8"/>
<polyline points="209.2,336.1 219.2,356.3 222.0,356.6" fill="none" stroke="#023EFF" stroke-width="0.95" stroke-linejoin="round" stroke-opacity="0.8"/>
<polyline points="52.3,356.6 55.8,356.6 56.8,355.7 57.4,347.4 58.2,346.2 58.8,336.7 59.4,336.7 59.8,349.8 60.4,354.5 61.8,355.1 63.0,356.6 67.1,356.6 68.3,358.1 69.1,367.5 70.1,376.4 70.7,377.0 71.5,372.3 72.4,362.8 73.6,357.5 74.8,356.6 79.9,356.6 80.5,361.6 81.0,377.6 82.2,373.5 83.1,367.5 83.7,374.7 84.3,369.9 84.9,373.5 85.7,374.7 86.7,376.4 87.2,378.2 87.5,335.4 87.6,378.6 88.0,335.4 88.5,378.6 89.0,335.4 89.6,335.4 95.3,335.4 95.8,349.8 96.8,355.7 99.4,356.9 100.6,349.8 101.8,352.1 102.4,349.8 103.0,353.3 103.5,343.8 104.7,336.1 105.6,335.4 110.7,335.4 111.5,337.9 112.4,349.8 113.0,352.7 113.6,336.7 114.2,335.4 117.2,335.4 117.6,335.4 117.6,378.6 124.6,378.6 124.9,335.4 125.5,356.9 133.6,357.1 134.7,356.6 139.5,356.6 139.8,378.6 140.4,378.6 140.7,335.4 141.8,337.9 142.8,345.0 143.3,356.9 153.1,356.9 153.7,353.3 154.3,349.8 155.1,352.7 156.1,352.1 157.3,356.3 159.6,356.6 160.0,335.4 164.4,335.0 164.7,377.6 166.1,377.6 167.0,372.3 167.7,376.4 168.2,378.2 168.5,335.4 175.0,335.4 175.4,378.6 176.4,378.6 176.8,336.7 177.8,341.5 179.0,352.1 180.1,357.5 181.3,366.4 182.5,375.8 183.3,377.0 184.3,371.1 185.2,358.1 186.1,356.6 190.0,356.6 190.5,335.4 191.1,335.4 191.4,378.2 192.6,375.8 193.8,372.3 194.1,369.9 194.7,375.8 195.5,373.5 196.4,377.0 197.3,367.5 198.5,359.3 199.5,355.7 200.0,378.6 201.1,378.6 201.5,335.4 215.7,335.4 216.3,343.8 216.9,356.6 222.8,356.6" fill="none" stroke="#023EFF" stroke-width="0.95" stroke-linejoin="round" stroke-opacity="0.8"/>
<polyline points="52.3,356.6 55.8,356.6 56.8,355.7 57.4,347.4 58.2,346.2 58.8,336.7 59.4,336.7 59.8,349.8 60.4,354.5 61.8,355.1 63.0,356.6 67.1,356.6 68.3,358.1 69.1,367.5 70.1,376.4 70.7,377.0 71.5,372.3 72.4,362.8 73.6,357.5 74.8,356.6 79.9,356.6 80.5,361.6 81.0,377.6 82.2,373.5 83.1,367.5 83.7,374.7 84.3,369.9 84.9,373.5 85.7,374.7 86.7,376.4 87.2,378.2 87.5,335.4 87.6,378.6 88.0,335.4 88.5,378.6 89.0,335.4 89.6,335.4 95.3,335.4 95.8,349.8 96.8,355.7 99.4,356.9 100.6,349.8 101.8,352.1 102.4,349.8 103.0,353.3 103.5,343.8 104.7,336.1 105.6,335.4 110.7,335.4 111.5,337.9 112.4,349.8 113.0,352.7 113.6,336.7 114.2,335.4 117.2,335.4 117.6,335.4 117.6,378.6 124.6,378.6 124.9,335.4 125.5,356.9 133.6,357.1 134.7,356.6 139.5,356.6 139.8,378.6 140.4,378.6 140.7,335.4 141.8,337.9 142.8,345.0 143.3,356.9 153.1,356.9 153.7,353.3 154.3,349.8 155.1,352.7 156.1,352.1 157.3,356.3 159.6,356.6 160.0,335.4 164.4,335.0 164.7,377.6 166.1,377.6 167.0,372.3 167.7,376.4 168.2,378.2 168.5,335.4 175.0,335.4 175.4,378.6 176.4,378.6 176.8,336.7 177.8,341.5 179.0,352.1 180.1,357.5 181.3,366.4 182.5,375.8 183.3,377.0 184.3,371.1 185.2,358.1 186.1,356.6 190.0,356.6 190.5,335.4 191.1,335.4 191.4,378.2 192.6,375.8 193.8,372.3 194.1,369.9 194.7,375.8 195.5,373.5 196.4,377.0 197.3,367.5 198.5,359.3 199.5,355.7 200.0,378.6 201.1,378.6 201.5,335.4 215.7,335.4 216.3,343.8 216.9,356.6 222.8,356.6" fill="none" stroke="#FF7C00" stroke-width="0.95" stroke-linejoin="round" stroke-opacity="0.8"/>
<polyline points="176.9,336.9 177.6,341.5 178.5,350.0" fill="none" stroke="#FF7C00" stroke-width="1.7" stroke-linejoin="round" stroke-opacity="0.8"/>
<polyline points="140.9,336.2 141.7,338.5 142.6,345.0" fill="none" stroke="#FF7C00" stroke-width="1.5" stroke-linejoin="round" stroke-opacity="0.8"/>
<rect x="117.2" y="335.0" width="5.4" height="44.00000000000004" fill="#e07c30"/>
<rect x="124.5" y="335.0" width="0.8" height="44.00000000000004" fill="#e07c30"/>
<polyline points="120.5,335.9 120.5,378.6" fill="none" stroke="#c8b8b4" stroke-width="0.6" stroke-linejoin="round" stroke-dasharray="1.3,1.3"/>
<polyline points="122.0,335.9 122.0,378.6" fill="none" stroke="#a098b0" stroke-width="0.6" stroke-linejoin="round" stroke-dasharray="1.3,1.3"/>
<rect x="122.6" y="335.4" width="1.9" height="43.200000000000045" fill="#4646b8" fill-opacity="0.85"/>
<rect x="87.6" y="335.4" width="1.8" height="43.200000000000045" fill="#b0602a" fill-opacity="0.4"/>
<text transform="translate(38.1,346.9) scale(0.85,1)" font-size="6.82" text-anchor="end" >100</text>
<text transform="translate(38.1,359.1) scale(0.85,1)" font-size="6.82" text-anchor="end" >0</text>
<text transform="translate(38.1,370.9) scale(0.85,1)" font-size="6.82" text-anchor="end" >−100</text>
<text transform="translate(17.1,356.6) rotate(-90)" font-size="6.6000000000000005" text-anchor="middle"><tspan font-style="oblique">yaw</tspan> (deg)</text>
<text transform="translate(52.5,390.9) scale(0.85,1)" font-size="6.82" text-anchor="middle" >0</text>
<text transform="translate(88.8,390.9) scale(0.85,1)" font-size="6.82" text-anchor="middle" >100</text>
<text transform="translate(125.1,390.9) scale(0.85,1)" font-size="6.82" text-anchor="middle" >200</text>
<text transform="translate(161.3,390.9) scale(0.85,1)" font-size="6.82" text-anchor="middle" >300</text>
<text transform="translate(197.5,390.9) scale(0.85,1)" font-size="6.82" text-anchor="middle" >400</text>
<text transform="translate(137.5,400.5) scale(0.85,1)" font-size="7.53" text-anchor="middle"><tspan font-style="oblique">t</tspan> (s)</text>
<text transform="translate(3.9,403.2) scale(0.85,1)" font-size="4.00" text-anchor="start" style="fill:#000" stroke="#000" stroke-width="0.12">euler_angle_sequence: sxyz</text>
<text class="cap" x="122.6" y="416.7" font-size="11.5" text-anchor="middle"><tspan font-weight="normal">(</tspan>c<tspan font-weight="normal">)</tspan></text>
<rect x="357" y="215.8" width="185.0" height="47.8" fill="#EAEAF2"/>
<line x1="365.4" y1="215.8" x2="365.4" y2="263.6" stroke="#fff" stroke-width="0.7"/>
<line x1="394.9" y1="215.8" x2="394.9" y2="263.6" stroke="#fff" stroke-width="0.7"/>
<line x1="424.3" y1="215.8" x2="424.3" y2="263.6" stroke="#fff" stroke-width="0.7"/>
<line x1="453.8" y1="215.8" x2="453.8" y2="263.6" stroke="#fff" stroke-width="0.7"/>
<line x1="483.2" y1="215.8" x2="483.2" y2="263.6" stroke="#fff" stroke-width="0.7"/>
<line x1="512.7" y1="215.8" x2="512.7" y2="263.6" stroke="#fff" stroke-width="0.7"/>
<line x1="357" y1="228.2" x2="542" y2="228.2" stroke="#fff" stroke-width="0.7"/>
<line x1="357" y1="240.4" x2="542" y2="240.4" stroke="#fff" stroke-width="0.7"/>
<line x1="357" y1="252.6" x2="542" y2="252.6" stroke="#fff" stroke-width="0.7"/>
<polyline points="365.2,240.2 410.8,240.2 411.5,241.0 411.9,262.0 412.6,262.0 413.2,218.2 470.4,218.2 471.3,218.9 471.9,222.0 472.4,240.2 533.8,240.2" fill="none" stroke="#023EFF" stroke-width="1.25" stroke-linejoin="round" stroke-opacity="0.7"/>
<polyline points="365.2,240.2 410.8,240.2 411.5,241.0 411.9,262.0 412.6,262.0 413.2,218.2 470.4,218.2 471.3,218.9 471.9,222.0 472.4,240.2 533.8,240.2" fill="none" stroke="#FF7C00" stroke-width="1.25" stroke-linejoin="round" stroke-opacity="0.7"/>
<rect x="415" y="232.1" width="68.7" height="30.4" rx="1" fill="#ededf5" fill-opacity="0.9" stroke="#d4d4dc" stroke-width="0.5"/>
<line x1="417.2" y1="236.9" x2="430" y2="236.9" stroke="#6e6e6e" stroke-width="1.25" stroke-dasharray="2.8,1.3"/>
<line x1="417.2" y1="246.6" x2="430" y2="246.6" stroke="#023EFF" stroke-opacity="0.7" stroke-width="1.25"/>
<line x1="417.2" y1="255.8" x2="430" y2="255.8" stroke="#FF7C00" stroke-opacity="0.7" stroke-width="1.25"/>
<text transform="translate(434.7,239.4) scale(0.85,1)" font-size="7.00" text-anchor="start" >06_groundtruth</text>
<text transform="translate(434.7,249.1) scale(0.85,1)" font-size="7.00" text-anchor="start" >ORB-SLAM</text>
<text transform="translate(434.7,258.3) scale(0.85,1)" font-size="7.00" text-anchor="start" >Ours</text>
<text transform="translate(352,230.7) scale(0.85,1)" font-size="6.82" text-anchor="end" >100</text>
<text transform="translate(352,242.9) scale(0.85,1)" font-size="6.82" text-anchor="end" >0</text>
<text transform="translate(352,255.1) scale(0.85,1)" font-size="6.82" text-anchor="end" >−100</text>
<text transform="translate(330.6,240) rotate(-90)" font-size="6.6000000000000005" text-anchor="middle"><tspan font-style="oblique">roll</tspan> (deg)</text>
<rect x="357" y="274.6" width="185.0" height="48.0" fill="#EAEAF2"/>
<line x1="365.4" y1="274.6" x2="365.4" y2="322.6" stroke="#fff" stroke-width="0.7"/>
<line x1="394.9" y1="274.6" x2="394.9" y2="322.6" stroke="#fff" stroke-width="0.7"/>
<line x1="424.3" y1="274.6" x2="424.3" y2="322.6" stroke="#fff" stroke-width="0.7"/>
<line x1="453.8" y1="274.6" x2="453.8" y2="322.6" stroke="#fff" stroke-width="0.7"/>
<line x1="483.2" y1="274.6" x2="483.2" y2="322.6" stroke="#fff" stroke-width="0.7"/>
<line x1="512.7" y1="274.6" x2="512.7" y2="322.6" stroke="#fff" stroke-width="0.7"/>
<line x1="357" y1="285.6" x2="542" y2="285.6" stroke="#fff" stroke-width="0.7"/>
<line x1="357" y1="298.4" x2="542" y2="298.4" stroke="#fff" stroke-width="0.7"/>
<line x1="357" y1="311.3" x2="542" y2="311.3" stroke="#fff" stroke-width="0.7"/>
<polyline points="365.2,298.4 375.6,298.5 377.6,297.6 379.6,298.4 398.0,298.5 401.0,298.0 403.0,297.5 405.5,298.0 407.2,299.4 408.0,300.5 409.3,306.5 410.6,314.3 411.7,320.1 412.6,314.3 413.9,306.5 415.2,300.6 416.5,297.6 417.8,297.1 419.7,298.0 423.0,298.4 437.6,298.3 439.6,297.5 441.6,298.2 467.4,298.3 468.4,297.4 470.0,293.4 471.3,284.3 472.3,277.5 472.6,276.3 472.9,277.5 473.9,284.3 475.2,293.4 476.5,297.6 477.8,298.4 500.0,298.3 505.0,298.1 507.0,297.5 509.0,298.3 515.0,298.0 518.0,298.7 521.0,298.2 526.0,297.6 530.0,298.1 533.8,298.2" fill="none" stroke="#023EFF" stroke-width="1.25" stroke-linejoin="round" stroke-opacity="0.7"/>
<polyline points="477.0,298.6 479.0,299.3 486.2,299.5 486.9,296.7 487.4,300.6 488.2,298.8 492.0,298.4" fill="none" stroke="#023EFF" stroke-width="1.25" stroke-linejoin="round" stroke-opacity="0.7"/>
<polyline points="365.2,298.4 375.6,298.5 377.6,297.6 379.6,298.4 398.0,298.5 401.0,298.0 403.0,297.5 405.5,298.0 407.2,299.4 408.0,300.5 409.3,306.5 410.6,314.3 411.7,320.1 412.6,314.3 413.9,306.5 415.2,300.6 416.5,297.6 417.8,297.1 419.7,298.0 423.0,298.4 437.6,298.3 439.6,297.5 441.6,298.2 467.4,298.3 468.4,297.4 470.0,293.4 471.3,284.3 472.3,277.5 472.6,276.3 472.9,277.5 473.9,284.3 475.2,293.4 476.5,297.6 477.8,298.4 500.0,298.3 505.0,298.1 507.0,297.5 509.0,298.3 515.0,298.0 518.0,298.7 521.0,298.2 526.0,297.6 530.0,298.1 533.8,298.2" fill="none" stroke="#FF7C00" stroke-width="1.25" stroke-linejoin="round" stroke-opacity="0.7"/>
<text transform="translate(352,288.1) scale(0.85,1)" font-size="6.82" text-anchor="end" >50</text>
<text transform="translate(352,300.9) scale(0.85,1)" font-size="6.82" text-anchor="end" >0</text>
<text transform="translate(352,313.8) scale(0.85,1)" font-size="6.82" text-anchor="end" >−50</text>
<text transform="translate(335.2,298.4) rotate(-90)" font-size="6.6000000000000005" text-anchor="middle"><tspan font-style="oblique">pitch</tspan> (deg)</text>
<rect x="357" y="333.1" width="185.0" height="47.6" fill="#EAEAF2"/>
<line x1="365.4" y1="333.1" x2="365.4" y2="380.7" stroke="#fff" stroke-width="0.7"/>
<line x1="394.9" y1="333.1" x2="394.9" y2="380.7" stroke="#fff" stroke-width="0.7"/>
<line x1="424.3" y1="333.1" x2="424.3" y2="380.7" stroke="#fff" stroke-width="0.7"/>
<line x1="453.8" y1="333.1" x2="453.8" y2="380.7" stroke="#fff" stroke-width="0.7"/>
<line x1="483.2" y1="333.1" x2="483.2" y2="380.7" stroke="#fff" stroke-width="0.7"/>
<line x1="512.7" y1="333.1" x2="512.7" y2="380.7" stroke="#fff" stroke-width="0.7"/>
<line x1="357" y1="341.6" x2="542" y2="341.6" stroke="#fff" stroke-width="0.7"/>
<line x1="357" y1="354.1" x2="542" y2="354.1" stroke="#fff" stroke-width="0.7"/>
<line x1="357" y1="366.5" x2="542" y2="366.5" stroke="#fff" stroke-width="0.7"/>
<line x1="357" y1="378.9" x2="542" y2="378.9" stroke="#fff" stroke-width="0.7"/>
<polyline points="365.2,378.9 410.0,378.9 410.8,378.0 411.3,370.0 411.7,340.0 412.2,336.6 413.6,335.8 440.0,335.3 466.0,335.3 469.0,335.6 470.8,336.8 471.8,340.0 472.5,352.0 473.2,368.0 474.0,376.0 475.0,378.2 477.0,378.9 533.8,378.9" fill="none" stroke="#023EFF" stroke-width="1.25" stroke-linejoin="round" stroke-opacity="0.7"/>
<polyline points="365.2,378.9 410.0,378.9 410.8,378.0 411.3,370.0 411.7,340.0 412.2,336.6 413.6,335.8 440.0,335.3 466.0,335.3 469.0,335.6 470.8,336.8 471.8,340.0 472.5,352.0 473.2,368.0 474.0,376.0 475.0,378.2 477.0,378.9 533.8,378.9" fill="none" stroke="#FF7C00" stroke-width="1.25" stroke-linejoin="round" stroke-opacity="0.7"/>
<text transform="translate(352,344.1) scale(0.85,1)" font-size="6.82" text-anchor="end" >150</text>
<text transform="translate(352,356.6) scale(0.85,1)" font-size="6.82" text-anchor="end" >100</text>
<text transform="translate(352,369.0) scale(0.85,1)" font-size="6.82" text-anchor="end" >50</text>
<text transform="translate(352,381.4) scale(0.85,1)" font-size="6.82" text-anchor="end" >0</text>
<text transform="translate(335.4,356.5) rotate(-90)" font-size="6.6000000000000005" text-anchor="middle"><tspan font-style="oblique">yaw</tspan> (deg)</text>
<text transform="translate(365.4,391.7) scale(0.85,1)" font-size="6.82" text-anchor="middle" >0</text>
<text transform="translate(394.9,391.7) scale(0.85,1)" font-size="6.82" text-anchor="middle" >20</text>
<text transform="translate(424.3,391.7) scale(0.85,1)" font-size="6.82" text-anchor="middle" >40</text>
<text transform="translate(453.8,391.7) scale(0.85,1)" font-size="6.82" text-anchor="middle" >60</text>
<text transform="translate(483.2,391.7) scale(0.85,1)" font-size="6.82" text-anchor="middle" >80</text>
<text transform="translate(512.7,391.7) scale(0.85,1)" font-size="6.82" text-anchor="middle" >100</text>
<text transform="translate(542.3,391.7) scale(0.85,1)" font-size="6.82" text-anchor="middle" >120</text>
<text transform="translate(449.5,401.5) scale(0.85,1)" font-size="7.53" text-anchor="middle"><tspan font-style="oblique">t</tspan> (s)</text>
<text transform="translate(317.3,403.2) scale(0.85,1)" font-size="4.00" text-anchor="start" style="fill:#000" stroke="#000" stroke-width="0.12">euler_angle_sequence: sxyz</text>
<text class="cap" x="436" y="416.7" font-size="11.5" text-anchor="middle"><tspan font-weight="normal">(</tspan>d<tspan font-weight="normal">)</tspan></text>
</svg>
</body></html>
